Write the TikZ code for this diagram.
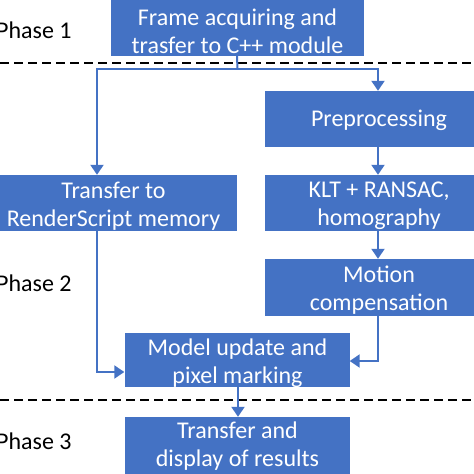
\documentclass[tikz,border=0pt]{standalone}
\usepackage{fontspec}
\setmainfont{Carlito}
\usetikzlibrary{arrows.meta}
\definecolor{boxblue}{HTML}{4472C4}
\tikzset{
  box/.style={fill=boxblue, draw=none, inner sep=0pt},
  txt/.style={text=white, align=center, inner sep=0pt,
    font=\fontsize{24}{28}\selectfont},
  flow/.style={draw=boxblue, line width=2pt, -{Triangle[width=13pt,length=10pt]}},
  flowline/.style={draw=boxblue, line width=2pt},
  phaseline/.style={draw=black, line width=1.3pt, dash pattern=on 9pt off 5pt},
  phase/.style={anchor=west, inner sep=0pt, font=\fontsize{24}{28}\selectfont}
}
\begin{document}
\begin{tikzpicture}[x=1pt,y=-1pt]
\useasboundingbox (0,0) rectangle (474,474);
% boxes
\node[box, minimum width=253pt, minimum height=62pt] (frame) at (237,25) {};
\node[txt] (frame-t) at (237.5,31) {Frame acquiring and\\trasfer to C++ module};
\node[box, minimum width=228pt, minimum height=56pt] (pre) at (379,119) {};
\node[txt] (pre-t) at (379,120) {Preprocessing};
\node[box, minimum width=247pt, minimum height=56pt] (ren) at (113.5,203) {};
\node[txt] (ren-t) at (113.5,206) {Transfer to\\RenderScript memory};
\node[box, minimum width=228pt, minimum height=56pt] (klt) at (379,203) {};
\node[txt] (klt-t) at (379,206) {KLT + RANSAC,\\homography};
\node[box, minimum width=228pt, minimum height=57pt] (mot) at (379,287.5) {};
\node[txt] (mot-t) at (379,290.5) {Motion\\compensation};
\node[box, minimum width=225pt, minimum height=54pt] (mod) at (237,360) {};
\node[txt] (mod-t) at (237.5,363) {Model update and\\pixel marking};
\node[box, minimum width=225pt, minimum height=62pt] (res) at (237,448) {};
\node[txt] (res-t) at (237.5,446.5) {Transfer and\\display of results};
% phase labels
\node[phase] (p1) at (-4,30) {Phase 1};
\node[phase] (p2) at (-4,283) {Phase 2};
\node[phase] (p3) at (-4,441) {Phase 3};
% dashed lines
\coordinate (d1l) at (0,63); \coordinate (d1r) at (474,63);
\coordinate (d2l) at (0,400); \coordinate (d2r) at (474,400);
\draw[phaseline] (d1l) -- (d1r);
\draw[phaseline] (d2l) -- (d2r);
% connectors
\coordinate (split) at (237.5,69);
\draw[flowline] (frame.south) -- (split);
\draw[flow] (split) -| (ren.north -| 97,0);
\draw[flow] (split) -| (pre.north -| 378,0);
\draw[flow] (pre.south -| 378,0) -- (klt.north -| 378,0);
\draw[flow] (klt.south -| 378,0) -- (mot.north -| 378,0);
\draw[flow] (ren.south -| 97,0) |- (mod.west |- 0,372);
\draw[flow] (mot.south -| 378,0) |- (mod.east |- 0,361);
\draw[flow] (mod.south -| 238,0) -- (res.north -| 238,0);
\end{tikzpicture}
\end{document}
